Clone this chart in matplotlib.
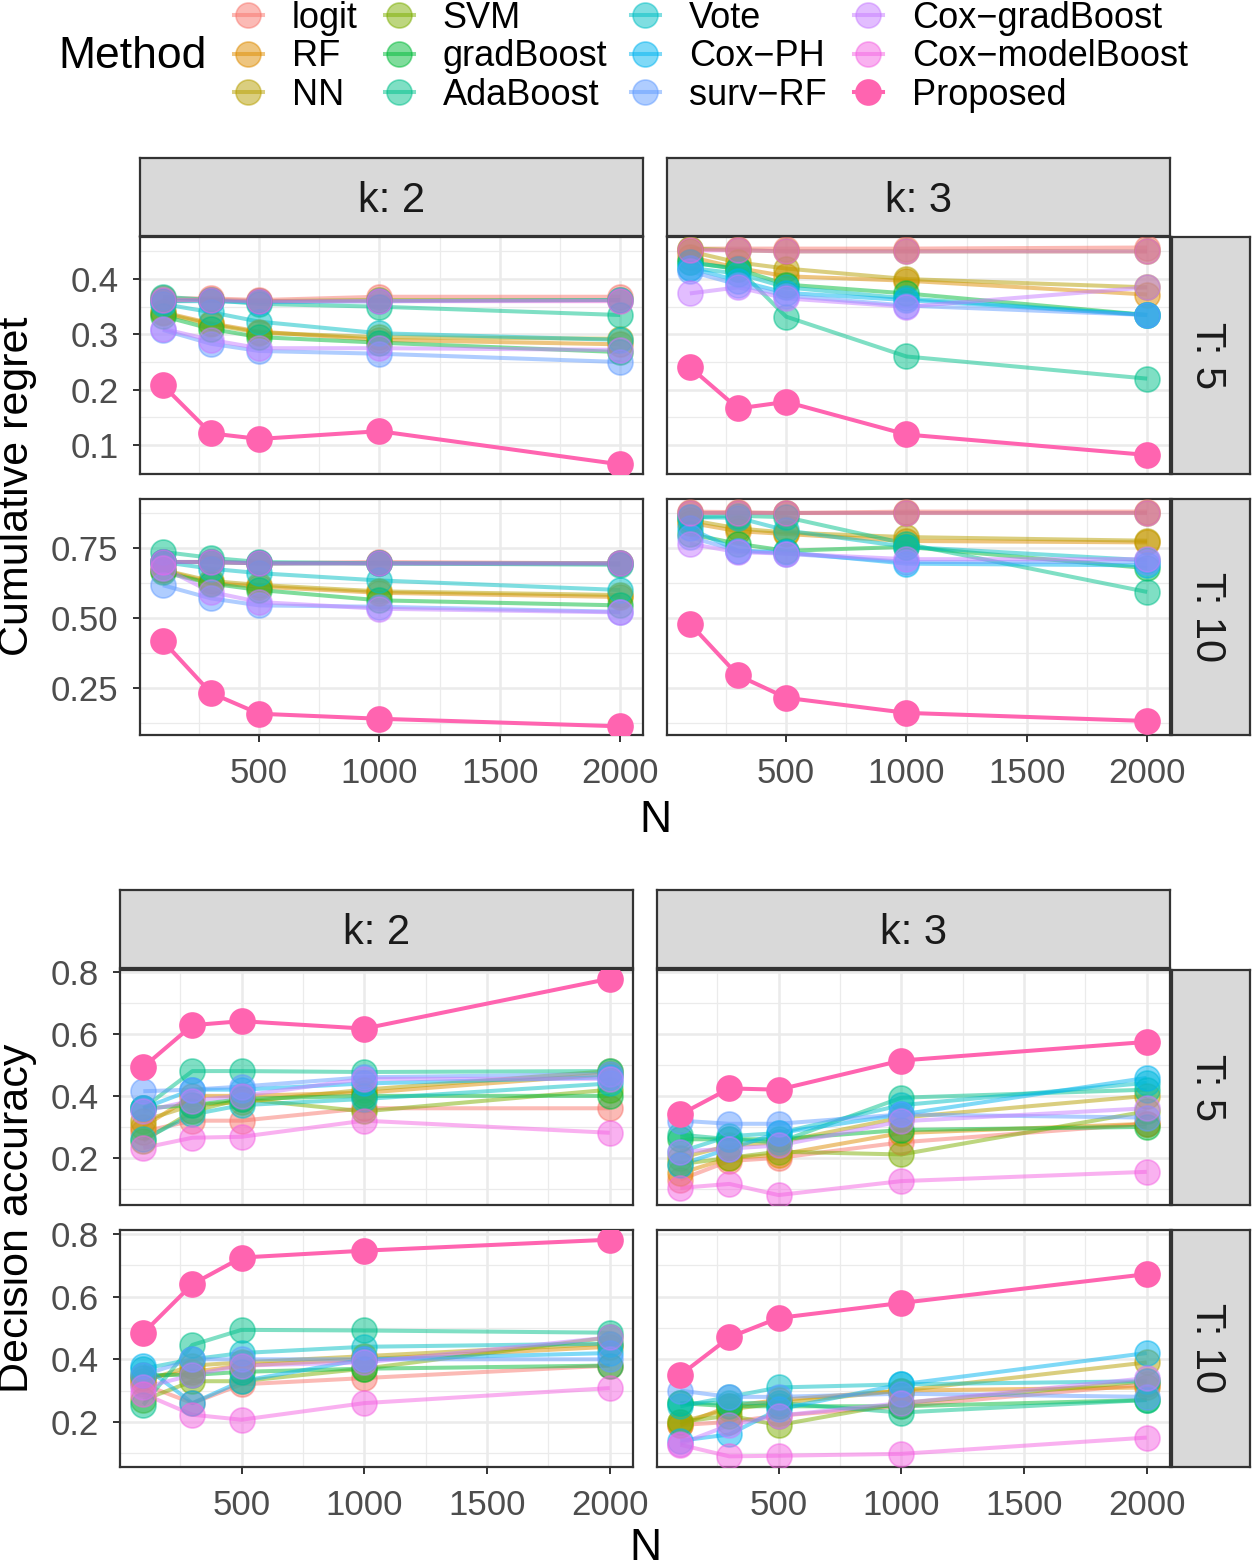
import matplotlib
matplotlib.use('Agg')
import matplotlib.pyplot as plt
from matplotlib.lines import Line2D
from matplotlib.ticker import MultipleLocator, FormatStrFormatter

plt.rcParams['font.family'] = ['Liberation Sans', 'DejaVu Sans']

# ---------------- data ----------------
N = [100, 300, 500, 1000, 2000]
methods = ["logit", "RF", "NN", "SVM", "gradBoost", "AdaBoost", "Vote",
           "Cox\u2212PH", "surv\u2212RF", "Cox\u2212gradBoost", "Cox\u2212modelBoost", "Proposed"]
colors = ["#F8766D", "#DE8C00", "#B79F00", "#7CAE00", "#00BA38", "#00C08B",
          "#00BFC4", "#00B4F0", "#619CFF", "#C77CFF", "#F564E3", "#FF64B0"]
k_labels = ["k: 2", "k: 3"]
T_labels = ["T: 5", "T: 10"]

# Cumulative regret (rows in method order)
regret_k2_T5 = [
    [0.365, 0.365, 0.362, 0.368, 0.368],
    [0.340, 0.320, 0.305, 0.290, 0.282],
    [0.338, 0.318, 0.303, 0.295, 0.292],
    [0.360, 0.362, 0.360, 0.362, 0.362],
    [0.333, 0.310, 0.295, 0.285, 0.268],
    [0.368, 0.362, 0.355, 0.350, 0.335],
    [0.355, 0.340, 0.323, 0.302, 0.290],
    [0.360, 0.360, 0.358, 0.360, 0.362],
    [0.308, 0.283, 0.270, 0.265, 0.250],
    [0.310, 0.290, 0.275, 0.275, 0.272],
    [0.362, 0.362, 0.360, 0.360, 0.360],
    [0.208, 0.121, 0.111, 0.125, 0.065],
]
regret_k3_T5 = [
    [0.455, 0.455, 0.455, 0.455, 0.457],
    [0.440, 0.420, 0.405, 0.397, 0.372],
    [0.450, 0.430, 0.419, 0.400, 0.385],
    [0.455, 0.452, 0.450, 0.450, 0.450],
    [0.430, 0.418, 0.390, 0.374, 0.335],
    [0.430, 0.419, 0.332, 0.260, 0.220],
    [0.420, 0.410, 0.385, 0.365, 0.335],
    [0.420, 0.397, 0.375, 0.362, 0.335],
    [0.414, 0.390, 0.370, 0.352, 0.335],
    [0.374, 0.385, 0.365, 0.350, 0.385],
    [0.452, 0.452, 0.450, 0.450, 0.450],
    [0.241, 0.166, 0.178, 0.119, 0.082],
]
regret_k2_T10 = [
    [0.700, 0.700, 0.695, 0.700, 0.695],
    [0.670, 0.625, 0.612, 0.590, 0.575],
    [0.672, 0.632, 0.618, 0.595, 0.582],
    [0.700, 0.700, 0.695, 0.695, 0.695],
    [0.664, 0.623, 0.600, 0.563, 0.545],
    [0.736, 0.715, 0.700, 0.695, 0.690],
    [0.700, 0.676, 0.660, 0.634, 0.600],
    [0.700, 0.700, 0.695, 0.695, 0.695],
    [0.617, 0.570, 0.545, 0.540, 0.522],
    [0.680, 0.593, 0.557, 0.533, 0.520],
    [0.700, 0.700, 0.695, 0.695, 0.695],
    [0.418, 0.232, 0.158, 0.140, 0.113],
]
regret_k3_T10 = [
    [0.880, 0.878, 0.875, 0.880, 0.880],
    [0.840, 0.810, 0.800, 0.775, 0.770],
    [0.850, 0.820, 0.805, 0.789, 0.776],
    [0.875, 0.875, 0.875, 0.875, 0.875],
    [0.800, 0.765, 0.740, 0.754, 0.678],
    [0.860, 0.865, 0.860, 0.765, 0.593],
    [0.860, 0.858, 0.813, 0.754, 0.706],
    [0.820, 0.740, 0.735, 0.694, 0.688],
    [0.789, 0.740, 0.730, 0.700, 0.700],
    [0.765, 0.735, 0.730, 0.710, 0.710],
    [0.875, 0.875, 0.875, 0.875, 0.875],
    [0.480, 0.295, 0.215, 0.161, 0.132],
]

# Decision accuracy
acc_k2_T5 = [
    [0.285, 0.320, 0.320, 0.360, 0.360],
    [0.300, 0.400, 0.400, 0.410, 0.470],
    [0.320, 0.370, 0.380, 0.420, 0.480],
    [0.255, 0.350, 0.390, 0.350, 0.420],
    [0.360, 0.370, 0.390, 0.400, 0.400],
    [0.360, 0.480, 0.480, 0.477, 0.480],
    [0.260, 0.340, 0.370, 0.390, 0.440],
    [0.360, 0.420, 0.420, 0.440, 0.460],
    [0.415, 0.420, 0.430, 0.460, 0.470],
    [0.350, 0.385, 0.400, 0.455, 0.455],
    [0.232, 0.265, 0.268, 0.320, 0.281],
    [0.493, 0.628, 0.641, 0.617, 0.778],
]
acc_k3_T5 = [
    [0.130, 0.190, 0.200, 0.250, 0.310],
    [0.150, 0.200, 0.210, 0.280, 0.310],
    [0.200, 0.240, 0.250, 0.330, 0.400],
    [0.180, 0.200, 0.220, 0.211, 0.350],
    [0.260, 0.260, 0.260, 0.290, 0.300],
    [0.275, 0.260, 0.250, 0.394, 0.420],
    [0.220, 0.270, 0.280, 0.370, 0.442],
    [0.178, 0.230, 0.280, 0.340, 0.458],
    [0.320, 0.310, 0.310, 0.340, 0.330],
    [0.220, 0.230, 0.240, 0.318, 0.360],
    [0.103, 0.116, 0.080, 0.125, 0.155],
    [0.340, 0.424, 0.420, 0.514, 0.574],
]
acc_k2_T10 = [
    [0.320, 0.260, 0.320, 0.340, 0.380],
    [0.340, 0.360, 0.380, 0.400, 0.440],
    [0.330, 0.380, 0.390, 0.410, 0.450],
    [0.270, 0.330, 0.330, 0.370, 0.470],
    [0.350, 0.350, 0.360, 0.370, 0.380],
    [0.255, 0.446, 0.494, 0.492, 0.485],
    [0.370, 0.400, 0.420, 0.440, 0.450],
    [0.380, 0.260, 0.330, 0.400, 0.420],
    [0.350, 0.400, 0.400, 0.400, 0.400],
    [0.310, 0.350, 0.380, 0.390, 0.470],
    [0.290, 0.223, 0.207, 0.260, 0.308],
    [0.484, 0.640, 0.725, 0.747, 0.782],
]
acc_k3_T10 = [
    [0.190, 0.200, 0.220, 0.250, 0.320],
    [0.190, 0.250, 0.270, 0.300, 0.310],
    [0.200, 0.240, 0.260, 0.300, 0.390],
    [0.200, 0.220, 0.190, 0.260, 0.330],
    [0.260, 0.250, 0.250, 0.250, 0.270],
    [0.260, 0.260, 0.260, 0.230, 0.270],
    [0.250, 0.280, 0.310, 0.320, 0.330],
    [0.140, 0.160, 0.240, 0.320, 0.420],
    [0.300, 0.280, 0.280, 0.290, 0.280],
    [0.130, 0.190, 0.220, 0.260, 0.340],
    [0.127, 0.090, 0.092, 0.098, 0.150],
    [0.350, 0.470, 0.532, 0.580, 0.672],
]

# ---------------- layout ----------------
W, H = 1252, 1568
fig = plt.figure(figsize=(W / 100, H / 100), dpi=100)
fig.patch.set_facecolor('white')

BORDER = '#333333'
GRID = '#EBEBEB'
TICKTXT = '#4D4D4D'
STRIPBG = '#D9D9D9'


def rect(x0, y0, x1, y1):
    return [x0 / W, 1 - y1 / H, (x1 - x0) / W, (y1 - y0) / H]


def style_spines(ax):
    for s in ax.spines.values():
        s.set_color(BORDER)
        s.set_linewidth(1.6)


def strip(x0, y0, x1, y1, label, rot=0):
    sa = fig.add_axes(rect(x0, y0, x1, y1))
    sa.set_facecolor(STRIPBG)
    sa.set_xticks([])
    sa.set_yticks([])
    style_spines(sa)
    sa.text(0.5, 0.5, label, transform=sa.transAxes, ha='center',
            va='center_baseline', fontsize=30, color='#1A1A1A', rotation=rot,
            rotation_mode='anchor')


def panel(box, data, ylim, ymaj, ymin, yfmt, show_x, show_y):
    ax = fig.add_axes(rect(*box))
    for i, m in enumerate(methods):
        a = 1.0 if m == "Proposed" else 0.5
        ax.plot(N, data[i], color=colors[i], alpha=a, lw=2.9, zorder=2,
                solid_capstyle='butt')
    for i, m in enumerate(methods):
        a = 1.0 if m == "Proposed" else 0.5
        ax.plot(N, data[i], ls='none', marker='o', ms=18, color=colors[i],
                mec=colors[i], mew=1.2, alpha=a, zorder=3)
    ax.set_xlim(5, 2095)
    ax.set_ylim(*ylim)
    ax.xaxis.set_major_locator(MultipleLocator(500))
    ax.xaxis.set_minor_locator(MultipleLocator(250))
    ax.yaxis.set_major_locator(MultipleLocator(ymaj))
    ax.yaxis.set_minor_locator(MultipleLocator(ymin))
    ax.yaxis.set_major_formatter(FormatStrFormatter(yfmt))
    ax.set_axisbelow(True)
    ax.grid(which='major', color=GRID, lw=1.8)
    ax.grid(which='minor', color=GRID, lw=0.9)
    ax.tick_params(which='minor', length=0)
    ax.tick_params(which='major', length=5, width=1.4, color=BORDER,
                   labelsize=25, labelcolor=TICKTXT, pad=4)
    ax.tick_params(axis='x', which='major', pad=10.5)
    ax.tick_params(axis='y', which='major', pad=10.5)
    if not show_x:
        ax.tick_params(axis='x', which='major', length=0, labelbottom=False)
    if not show_y:
        ax.tick_params(axis='y', which='major', length=0, labelleft=False)
    style_spines(ax)
    return ax


# ---- top plot: cumulative regret ----
cols_top = [(140, 643), (667, 1170)]
rows_top = [(237, 474), (499, 735)]
reg = [[regret_k2_T5, regret_k3_T5], [regret_k2_T10, regret_k3_T10]]
reg_lim = [(0.0476, 0.476), (0.082, 0.925)]
reg_tick = [(0.1, 0.05, '%.1f'), (0.25, 0.125, '%.2f')]
for r, (y0, y1) in enumerate(rows_top):
    for c, (x0, x1) in enumerate(cols_top):
        panel((x0, y0, x1, y1), reg[r][c], reg_lim[r], *reg_tick[r],
              show_x=(r == 1), show_y=(c == 0))
    strip(1172, y0, 1250, y1, T_labels[r], rot=-90)
for c, (x0, x1) in enumerate(cols_top):
    strip(x0, 158, x1, 236, k_labels[c])
fig.text(655 / W, 1 - 820 / H, "N", ha='center', va='center', fontsize=32)
fig.text(17 / W, 1 - 486 / H, "Cumulative regret", ha='center', va='center',
         rotation=90, fontsize=31)

# ---- bottom plot: decision accuracy ----
cols_bot = [(120, 633), (657, 1170)]
rows_bot = [(970, 1205), (1230, 1467)]
acc = [[acc_k2_T5, acc_k3_T5], [acc_k2_T10, acc_k3_T10]]
acc_lim = [(0.048, 0.806), (0.056, 0.813)]
for r, (y0, y1) in enumerate(rows_bot):
    for c, (x0, x1) in enumerate(cols_bot):
        panel((x0, y0, x1, y1), acc[r][c], acc_lim[r], 0.2, 0.1, '%.1f',
              show_x=(r == 1), show_y=(c == 0))
    strip(1172, y0, 1250, y1, T_labels[r], rot=-90)
for c, (x0, x1) in enumerate(cols_bot):
    strip(x0, 890, x1, 968, k_labels[c])
fig.text(645 / W, 1 - 1548 / H, "N", ha='center', va='center', fontsize=32)
fig.text(17 / W, 1 - 1218 / H, "Decision accuracy", ha='center', va='center',
         rotation=90, fontsize=31)

# ---- legend ----
fig.text(58 / W, 1 - 56 / H, "Method", ha='left', va='center', fontsize=32)
handles = []
for i, m in enumerate(methods):
    a = 1.0 if m == "Proposed" else 0.5
    handles.append(Line2D([], [], color=colors[i], alpha=a, lw=2.9, marker='o',
                          ms=18, mec=colors[i], mew=1.2))
leg_x = [234, 385, 631, 854]
for j in range(4):
    idx = list(range(3 * j, 3 * j + 3))
    lg = fig.legend([handles[i] for i in idx], [methods[i] for i in idx],
                    loc='center left', bbox_to_anchor=(leg_x[j] / W, 1 - 57 / H),
                    frameon=False, fontsize=26, handlelength=0.8,
                    handletextpad=0.8, labelspacing=0.1, borderpad=0,
                    borderaxespad=0, numpoints=1)

fig.savefig('out.png', dpi=100)
